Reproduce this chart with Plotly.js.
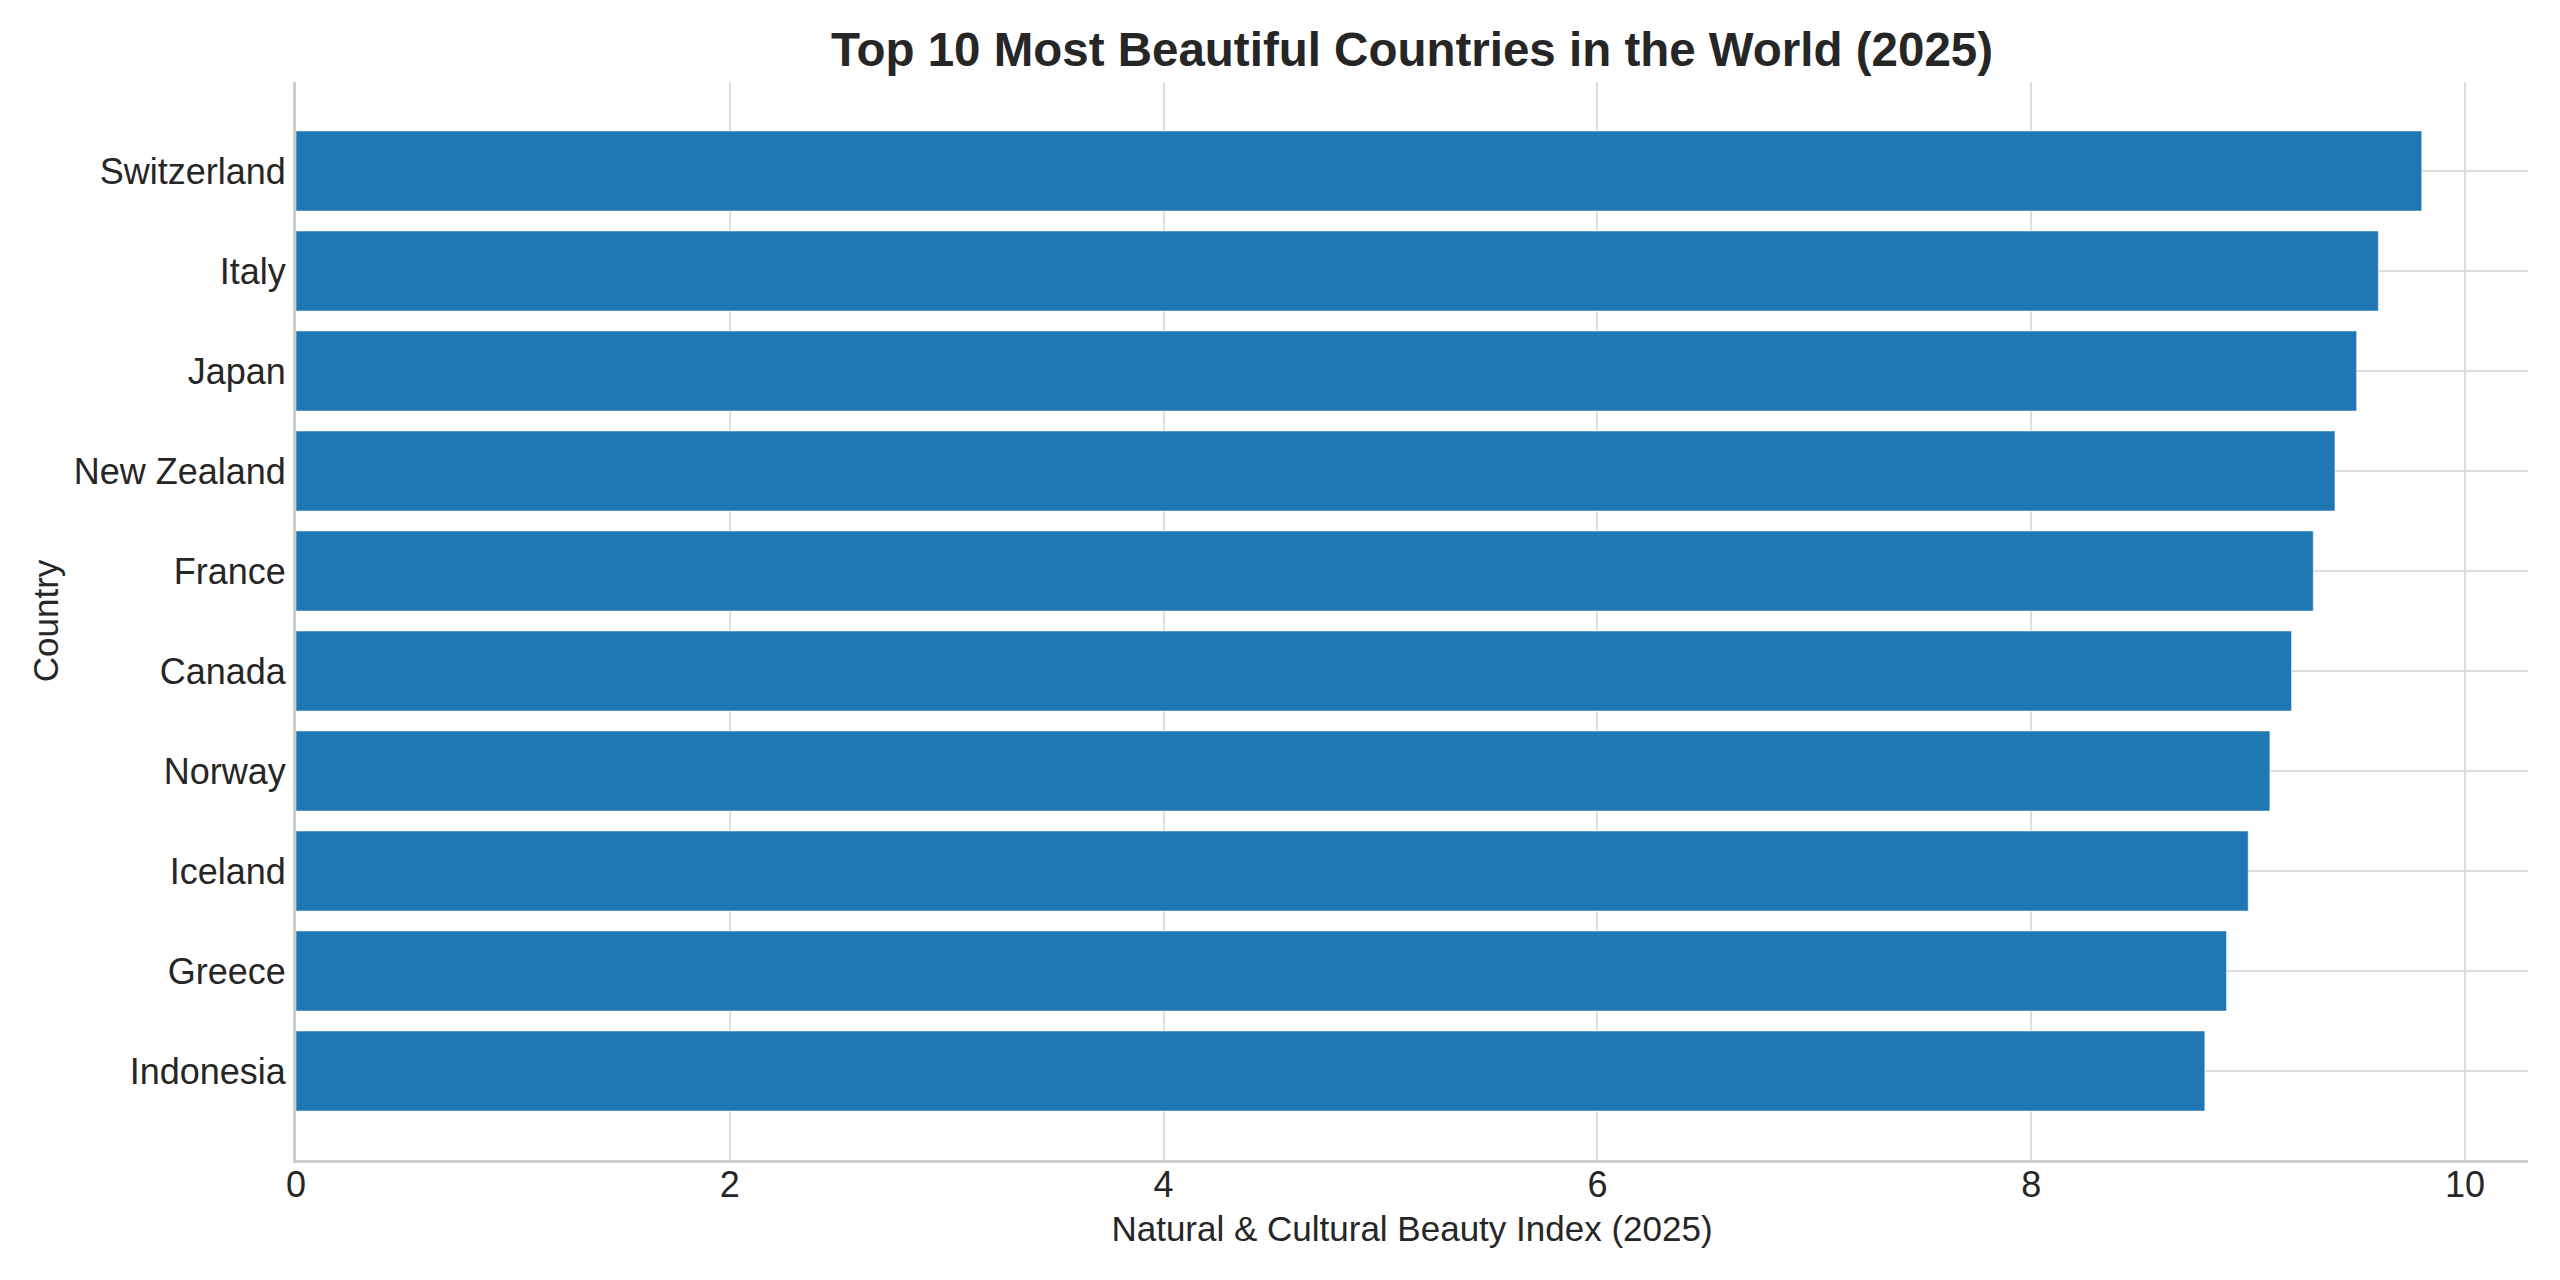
<!DOCTYPE html>
<html>
<head>
<meta charset="utf-8">
<script src="https://cdn.plot.ly/plotly-3.0.1.min.js"></script>
<style>
html,body{margin:0;padding:0;background:#fff;}
#chart{width:2560px;height:1280px;}
</style>
</head>
<body>
<div id="chart"></div>
<script>
const countries = ["Switzerland","Italy","Japan","New Zealand","France","Canada","Norway","Iceland","Greece","Indonesia"];
const beautyIndex = [9.8, 9.6, 9.5, 9.4, 9.3, 9.2, 9.1, 9.0, 8.9, 8.8];
const xTicks = [0, 2, 4, 6, 8, 10];

const textColor = "#262626";
const fontFam = "Liberation Sans, Arial, sans-serif";

const trace = {
  type: "bar",
  orientation: "h",
  x: beautyIndex,
  y: countries,
  marker: {color: "#1f77b4", line: {color: "rgba(255,255,255,0.5)", width: 1}},
  hoverinfo: "x+y"
};

const layout = {
  width: 2560,
  height: 1280,
  paper_bgcolor: "#ffffff",
  plot_bgcolor: "#ffffff",
  margin: {l: 296, r: 32, t: 82, b: 120},
  bargap: 0.2,
  showlegend: false,
  font: {family: fontFam, color: textColor, size: 36},
  title: {
    text: "<b>Top 10 Most Beautiful Countries in the World (2025)</b>",
    font: {family: fontFam, size: 47.5, color: textColor},
    x: 0.5, xref: "paper", xanchor: "center",
    y: 1 - 49/1280, yref: "container", yanchor: "middle"
  },
  xaxis: {
    range: [0, 10.29],
    tickvals: xTicks,
    ticktext: xTicks.map(String),
    showgrid: true,
    gridcolor: "#dedede",
    gridwidth: 2,
    zeroline: false,
    showline: true,
    linecolor: "#cccccc",
    linewidth: 3,
    ticks: "",
    ticklen: 0,
    ticklabelstandoff: -9,
    tickfont: {family: fontFam, size: 36, color: textColor},
    title: {
      text: "Natural & Cultural Beauty Index (2025)",
      font: {family: fontFam, size: 35, color: textColor},
      standoff: 13
    }
  },
  yaxis: {
    type: "category",
    categoryorder: "array",
    categoryarray: countries,
    range: [9.89, -0.89],
    showgrid: true,
    gridcolor: "#dedede",
    gridwidth: 2,
    zeroline: false,
    showline: true,
    linecolor: "#cccccc",
    linewidth: 3,
    ticks: "",
    ticklen: 0,
    ticklabelstandoff: 0,
    tickfont: {family: fontFam, size: 36, color: textColor},
    title: {
      text: "Country",
      font: {family: fontFam, size: 35, color: textColor},
      standoff: 5
    }
  }
};

Plotly.newPlot("chart", [trace], layout, {displayModeBar: false, staticPlot: true});
</script>
</body>
</html>
